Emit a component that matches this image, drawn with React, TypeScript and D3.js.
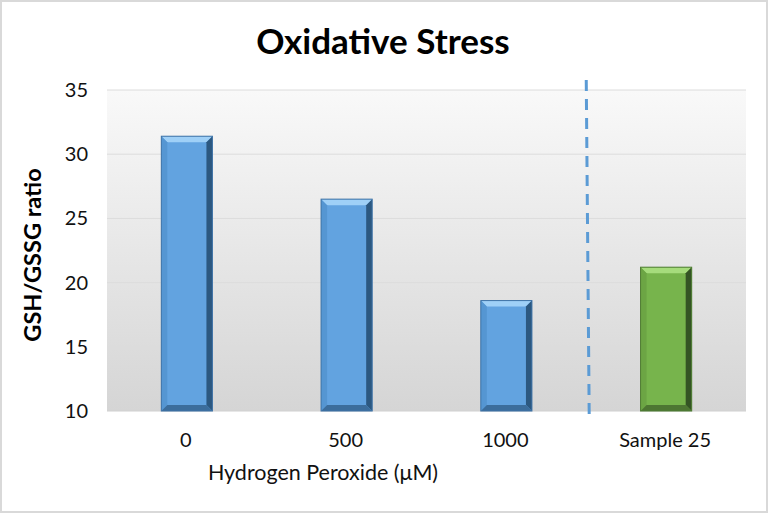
import React, { useEffect, useRef } from 'react';
import * as d3 from 'd3';

const categories = ['0', '500', '1000', 'Sample 25'];
const values = [31.4, 26.5, 18.6, 21.2];
const yTicks = [10, 15, 20, 25, 30, 35];

const W = 768;
const H = 513;

const palette = {
  blue: { face: '#62a3e0', top: '#9fd0f7', left: '#5596d2', right: '#2c5880', bottom: '#3b6d9c', edge: '#3f73a6' },
  green: { face: '#77b44c', top: '#a6dc7c', left: '#6ca544', right: '#345424', bottom: '#4d7632', edge: '#4f7c34' },
};

const FONT = 'Lato, "Open Sans", sans-serif';

const App: React.FC = () => {
  const svgRef = useRef<SVGSVGElement>(null);

  useEffect(() => {
    if (!svgRef.current) return;
    const svg = d3.select(svgRef.current);
    svg.selectAll('*').remove();

    const m = { top: 90, right: 22, bottom: 102, left: 107 };

    const x = d3.scaleBand<string>()
      .domain(categories)
      .range([m.left, W - m.right])
      .paddingInner(0.68)
      .paddingOuter(0.34);

    const y = d3.scaleLinear().domain([10, 35]).range([H - m.bottom, m.top]);

    const defs = svg.append('defs');
    const bg = defs.append('linearGradient').attr('id', 'plotBg')
      .attr('x1', 0).attr('y1', 0).attr('x2', 0).attr('y2', 1);
    bg.append('stop').attr('offset', '0%').attr('stop-color', '#f9f9f9');
    bg.append('stop').attr('offset', '100%').attr('stop-color', '#d5d5d5');

    // chart frame
    svg.append('rect')
      .attr('x', 1).attr('y', 1).attr('width', W - 2).attr('height', H - 2)
      .attr('fill', '#fff').attr('stroke', '#d9d9d9').attr('stroke-width', 2);

    // plot area
    svg.append('rect')
      .attr('x', m.left).attr('y', y(35))
      .attr('width', W - m.right - m.left).attr('height', y(10) - y(35))
      .attr('fill', 'url(#plotBg)');

    svg.append('g').selectAll('line').data(yTicks).join('line')
      .attr('x1', m.left).attr('x2', W - m.right)
      .attr('y1', (d) => y(d)).attr('y2', (d) => y(d))
      .attr('stroke', (d) => (d === 10 ? '#d0d0d0' : '#dcdcdc'))
      .attr('stroke-width', 1);

    // y tick labels
    svg.append('g').selectAll('text').data(yTicks).join('text')
      .attr('x', 88).attr('y', (d) => y(d))
      .attr('dy', '0.35em')
      .attr('text-anchor', 'end')
      .style('font-family', FONT)
      .style('font-size', '20px')
      .style('fill', '#111')
      .text((d) => d);

    // bars with bevel
    const bevel = 6;
    const bars = svg.append('g');
    categories.forEach((c, i) => {
      const p = i === 3 ? palette.green : palette.blue;
      const x0 = x(c)!;
      const x1 = x0 + x.bandwidth();
      const y0 = y(values[i]);
      const y1 = y(10);
      const g = bars.append('g');
      g.append('rect').attr('x', x0).attr('y', y0).attr('width', x1 - x0).attr('height', y1 - y0)
        .attr('fill', p.face);
      const poly = (pts: [number, number][], fill: string) =>
        g.append('polygon').attr('points', pts.map((q) => q.join(',')).join(' ')).attr('fill', fill);
      poly([[x0, y0], [x1, y0], [x1 - bevel, y0 + bevel], [x0 + bevel, y0 + bevel]], p.top);
      poly([[x0, y0], [x0 + bevel, y0 + bevel], [x0 + bevel, y1 - bevel], [x0, y1]], p.left);
      poly([[x1, y0], [x1, y1], [x1 - bevel, y1 - bevel], [x1 - bevel, y0 + bevel]], p.right);
      poly([[x0, y1], [x0 + bevel, y1 - bevel], [x1 - bevel, y1 - bevel], [x1, y1]], p.bottom);
      g.append('rect').attr('x', x0).attr('y', y0).attr('width', x1 - x0).attr('height', y1 - y0)
        .attr('fill', 'none').attr('stroke', p.edge).attr('stroke-width', 1);
    });

    // dashed separator between dose groups and sample
    const sepX = (x(categories[2])! + x.bandwidth() + x(categories[3])!) / 2;
    svg.append('line')
      .attr('x1', sepX).attr('x2', sepX + 3)
      .attr('y1', y(35) - 10).attr('y2', y(10) + 10)
      .attr('stroke', '#5b9bd5').attr('stroke-width', 3)
      .attr('stroke-dasharray', '11,8');

    // x tick labels
    svg.append('g').selectAll('text').data(categories).join('text')
      .attr('x', (d) => x(d)! + x.bandwidth() / 2 - 1)
      .attr('y', 440)
      .attr('dy', '0.35em')
      .attr('text-anchor', 'middle')
      .style('font-family', FONT)
      .style('font-size', '20px')
      .style('fill', '#111')
      .text((d) => d);

    // axis titles
    svg.append('text')
      .attr('x', 323).attr('y', 472).attr('dy', '0.35em')
      .attr('text-anchor', 'middle')
      .style('font-family', FONT)
      .style('font-size', '21.5px')
      .style('fill', '#111')
      .text('Hydrogen Peroxide (μM)');

    svg.append('text')
      .attr('transform', 'translate(33,255) rotate(-90)')
      .attr('dy', '0.35em')
      .attr('text-anchor', 'middle')
      .style('font-family', FONT)
      .style('font-size', '23.5px')
      .style('font-weight', 'bold')
      .style('fill', '#000')
      .text('GSH/GSSG ratio');

    svg.append('text')
      .attr('x', 383).attr('y', 42).attr('dy', '0.35em')
      .attr('text-anchor', 'middle')
      .style('font-family', FONT)
      .style('font-size', '35px')
      .style('font-weight', 'bold')
      .style('fill', '#000')
      .text('Oxidative Stress');
  }, []);

  return <svg ref={svgRef} width={W} height={H} style={{ display: 'block', position: 'absolute', left: 0, top: 0 }} />;
};

export default App;
